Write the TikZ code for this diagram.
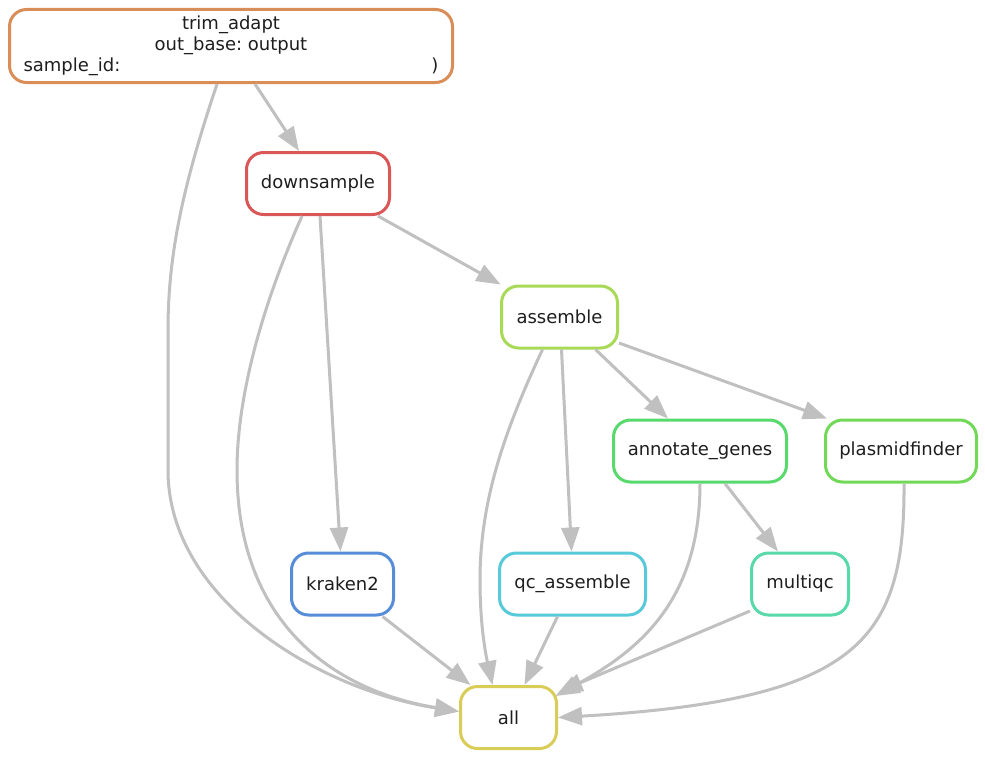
\documentclass[tikz,border=0pt]{standalone}
\usepackage{fontspec}
\setmainfont{DejaVu Sans}
\usetikzlibrary{arrows.meta}
\frenchspacing
\definecolor{edgegray}{RGB}{192,192,192}
\definecolor{ctrim}{RGB}{217,141,87}
\definecolor{cdown}{RGB}{217,87,87}
\definecolor{cass}{RGB}{168,217,87}
\definecolor{cann}{RGB}{87,217,108}
\definecolor{cplas}{RGB}{113,217,87}
\definecolor{ckrak}{RGB}{87,140,217}
\definecolor{cqc}{RGB}{87,201,217}
\definecolor{cmqc}{RGB}{87,217,170}
\definecolor{call}{RGB}{217,204,87}
\definecolor{txt}{RGB}{30,30,30}
\begin{document}
\frenchspacing
\begin{tikzpicture}[x=1pt,y=-1pt,
  box/.style={draw, line width=3pt, rounded corners=17pt, minimum height=62pt,
    inner sep=0pt, fill=white, font=\fontsize{18}{21}\selectfont\frenchspacing, text=txt},
  edge/.style={draw=edgegray, line width=3pt,
    -{Triangle[length=24pt,width=18pt,fill=edgegray]}}]
\useasboundingbox[fill=white] (0,0) rectangle (985,760);
% nodes
\node[box, draw=ctrim, minimum width=443pt, minimum height=73pt, align=center] (trim) at (231,46)
  {trim\_adapt\\out\_base: output\\\makebox[415pt]{sample\_id:\hfill)}};
\node[box, draw=cdown, minimum width=143pt] (down) at (318,183.5) {downsample};
\node[box, draw=cass, minimum width=116pt] (ass) at (559.5,317) {assemble};
\node[box, draw=cann, minimum width=173pt] (ann) at (700,451) {annotate\_genes};
\node[box, draw=cplas, minimum width=151pt] (plas) at (901,451) {plasmidfinder};
\node[box, draw=ckrak, minimum width=102pt] (krak) at (342.5,584) {kraken2};
\node[box, draw=cqc, minimum width=146pt] (qc) at (572.5,584) {qc\_assemble};
\node[box, draw=cmqc, minimum width=97pt] (mqc) at (800,584) {multiqc};
\node[box, draw=call, minimum width=96pt] (all) at (508.5,717.5) {all};
% edges
\draw[edge] ([xshift=24pt]trim.south) -- ([xshift=-19pt]down.north);
\draw[edge] ([xshift=-14pt]trim.south) .. controls (185,180) and (168,250) .. (168,330)
  -- (168,470) .. controls (168,600) and (320,690) .. ([yshift=6pt]all.west);
\draw[edge] ([xshift=-16pt]down.south) .. controls (260,310) and (237,400) .. (237,470)
  .. controls (237,620) and (330,690) .. ([yshift=6pt]all.west);
\draw[edge] ([xshift=2pt]down.south) -- ([xshift=-2pt]krak.north);
\draw[edge] ([xshift=60pt]down.south) -- ([xshift=-59pt]ass.north);
\draw[edge] ([xshift=-17pt]ass.south) .. controls (505,430) and (480,500) .. (480,580)
  .. controls (480,630) and (487,660) .. ([xshift=-16pt]all.north);
\draw[edge] ([xshift=2pt]ass.south) -- ([xshift=-1pt]qc.north);
\draw[edge] ([xshift=36pt]ass.south) -- ([xshift=-32pt]ann.north);
\draw[edge] ([yshift=-26pt]ass.east) -- ([xshift=-74pt]plas.north);
\draw[edge] (ann.south) .. controls (700,600) and (640,650) .. ([xshift=47pt,yshift=-11pt]all.north);
\draw[edge] ([xshift=25pt]ann.south) -- ([xshift=-22pt]mqc.north);
\draw[edge] ([xshift=3pt]plas.south) .. controls (905,640) and (860,700) .. (all.east);
\draw[edge] ([xshift=40pt]krak.south) -- ([xshift=-38pt]all.north);
\draw[edge] ([xshift=-15pt]qc.south) -- ([xshift=16pt]all.north);
\draw[edge] ([yshift=-27pt]mqc.west) -- ([xshift=50pt,yshift=-7pt]all.north);
\end{tikzpicture}
\end{document}
